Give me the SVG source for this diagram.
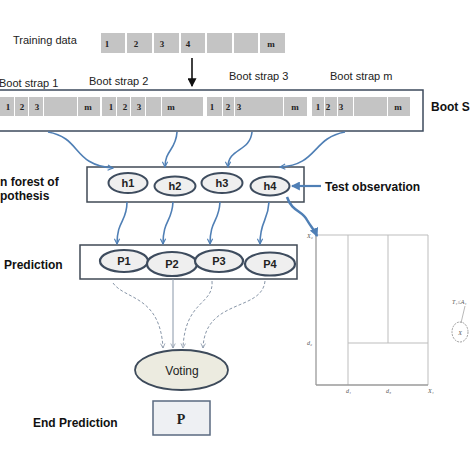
<svg xmlns="http://www.w3.org/2000/svg" width="474" height="474" viewBox="0 0 474 474">
<defs>
<marker id="blueArrow" viewBox="0 0 8 8" refX="7" refY="4" markerWidth="7" markerHeight="7" orient="auto" markerUnits="userSpaceOnUse">
<path d="M1,1 L7,4 L1,7" fill="none" stroke="#4f7fb5" stroke-width="1.3"/>
</marker>
<marker id="blueFill" viewBox="0 0 8 8" refX="7" refY="4" markerWidth="9" markerHeight="9" orient="auto" markerUnits="userSpaceOnUse">
<path d="M0,0 L8,4 L0,8 Z" fill="#4f7fb5"/>
</marker>
<marker id="grayArrow" viewBox="0 0 8 8" refX="7" refY="4" markerWidth="6" markerHeight="6" orient="auto" markerUnits="userSpaceOnUse">
<path d="M1,1 L7,4 L1,7" fill="none" stroke="#8896a8" stroke-width="1"/>
</marker>
<marker id="blackArrow" viewBox="0 0 8 8" refX="7" refY="4" markerWidth="9" markerHeight="9" orient="auto" markerUnits="userSpaceOnUse">
<path d="M0,0 L8,4 L0,8 Z" fill="#111"/>
</marker>
</defs>
<style>
.sans{font-family:"Liberation Sans",Arial,sans-serif}
.lbl{font-family:"Liberation Sans",Arial,sans-serif;font-size:11px;fill:#222}
.blbl{font-family:"Liberation Sans",Arial,sans-serif;font-size:12px;font-weight:bold;fill:#111}
.cell{fill:#c4c4c4}
.num{font-family:"Liberation Serif","Times New Roman",serif;font-size:9px;font-weight:bold;fill:#222;text-anchor:middle}
.hyp{fill:#efefef;stroke:#3e4c5e;stroke-width:2}
.pred{fill:#efefef;stroke:#3e4c5e;stroke-width:2.2}
.ell{font-family:"Liberation Sans",Arial,sans-serif;font-size:11px;font-weight:bold;fill:#222;text-anchor:middle}
.blue{fill:none;stroke:#4f7fb5;stroke-width:1.6}
.dash{fill:none;stroke:#8896a8;stroke-width:1;stroke-dasharray:3,2}
.grid{stroke:#bdbdbd;stroke-width:1;fill:none}
.axis{stroke:#9a9a9a;stroke-width:1.3;fill:none}
.tiny{font-family:"Liberation Serif","Times New Roman",serif;font-size:6px;font-style:italic;fill:#555}
</style>
<rect width="474" height="474" fill="#ffffff"/>

<g id="training">
<text class="lbl" x="13" y="44">Training data</text>
<rect class="cell" x="101" y="33" width="24" height="20"/>
<rect class="cell" x="127" y="33" width="25" height="20"/>
<rect class="cell" x="154" y="33" width="25" height="20"/>
<rect class="cell" x="181" y="33" width="24" height="20"/>
<rect class="cell" x="207" y="33" width="25" height="20"/>
<rect class="cell" x="234" y="33" width="24" height="20"/>
<rect class="cell" x="260" y="33" width="25" height="20"/>
<text class="num" x="107" y="47">1</text>
<text class="num" x="136" y="47">2</text>
<text class="num" x="162" y="47">3</text>
<text class="num" x="188" y="47">4</text>
<text class="num" x="271" y="47">m</text>
</g>

<g id="bootstrap">
<text class="lbl" x="-1" y="87" font-size="10">Boot strap  1</text>
<text class="lbl" x="89" y="85" font-size="10">Boot strap  2</text>
<text class="lbl" x="229" y="80" font-size="10">Boot strap  3</text>
<text class="lbl" x="330" y="80" font-size="10">Boot strap  m</text>
<rect x="-5" y="90" width="428" height="41" fill="none" stroke="#3c4a5c" stroke-width="1.5"/>
<rect class="cell" x="0" y="97" width="14" height="19"/>
<rect class="cell" x="15" y="97" width="13" height="19"/>
<rect class="cell" x="29" y="97" width="14" height="19"/>
<rect class="cell" x="44" y="97" width="33" height="19"/>
<rect class="cell" x="78" y="97" width="22" height="19"/>
<rect class="cell" x="102" y="97" width="14" height="19"/>
<rect class="cell" x="117" y="97" width="13" height="19"/>
<rect class="cell" x="131" y="97" width="14" height="19"/>
<rect class="cell" x="146" y="97" width="15" height="19"/>
<rect class="cell" x="162" y="97" width="41" height="19"/>
<rect class="cell" x="207" y="97" width="15" height="19"/>
<rect class="cell" x="223" y="97" width="11" height="19"/>
<rect class="cell" x="235" y="97" width="48" height="19"/>
<rect class="cell" x="284" y="97" width="23" height="19"/>
<rect class="cell" x="312" y="97" width="12" height="19"/>
<rect class="cell" x="325" y="97" width="12" height="19"/>
<rect class="cell" x="338" y="97" width="15" height="19"/>
<rect class="cell" x="354" y="97" width="33" height="19"/>
<rect class="cell" x="388" y="97" width="22" height="19"/>
<text class="num" x="8" y="110">1</text>
<text class="num" x="22" y="110">2</text>
<text class="num" x="37" y="110">3</text>
<text class="num" x="88" y="110">m</text>
<text class="num" x="111" y="110">1</text>
<text class="num" x="125" y="110">2</text>
<text class="num" x="139" y="110">3</text>
<text class="num" x="171" y="110">m</text>
<text class="num" x="212" y="110" font-weight="normal">1</text>
<text class="num" x="228" y="110" font-weight="normal">2</text>
<text class="num" x="239" y="110" font-weight="normal">3</text>
<text class="num" x="295" y="110" font-weight="normal">m</text>
<text class="num" x="318" y="110" font-weight="normal">1</text>
<text class="num" x="328" y="110" font-weight="normal">2</text>
<text class="num" x="341" y="110" font-weight="normal">3</text>
<text class="num" x="398" y="110" font-weight="normal">m</text>
<text class="blbl" x="431" y="111">Boot S</text>
</g>

<g id="hypotheses">
<text class="blbl" x="0" y="186" font-size="12">n forest of</text>
<text class="blbl" x="0" y="200" font-size="12">pothesis</text>
<rect x="87" y="167" width="217" height="35" fill="#ffffff" stroke="#404a55" stroke-width="1.5"/>
<ellipse class="hyp" cx="128" cy="183" rx="19.5" ry="10"/>
<ellipse class="hyp" cx="175" cy="186" rx="20.5" ry="9.5"/>
<ellipse class="hyp" cx="222" cy="183" rx="20.5" ry="10"/>
<ellipse class="hyp" cx="270" cy="186" rx="19.5" ry="9.5"/>
<text class="ell" x="128" y="187">h1</text>
<text class="ell" x="175" y="190">h2</text>
<text class="ell" x="222" y="187">h3</text>
<text class="ell" x="270" y="190">h4</text>
<text class="blbl" x="325" y="191">Test observation</text>
</g>

<g id="predictions">
<text class="blbl" x="4" y="269">Prediction</text>
<rect x="80" y="245" width="217" height="34" fill="#ffffff" stroke="#404a55" stroke-width="1.5"/>
<ellipse class="pred" cx="124" cy="261" rx="24" ry="11"/>
<ellipse class="pred" cx="172" cy="264" rx="25" ry="12"/>
<ellipse class="pred" cx="219" cy="261" rx="24" ry="11"/>
<ellipse class="pred" cx="270" cy="264" rx="25" ry="11.5"/>
<text class="ell" x="124" y="265" font-size="10" font-weight="normal">P1</text>
<text class="ell" x="172" y="268" font-size="10" font-weight="normal">P2</text>
<text class="ell" x="219" y="265" font-size="10" font-weight="normal">P3</text>
<text class="ell" x="270" y="268" font-size="10" font-weight="normal">P4</text>
</g>

<g id="voting">
<ellipse cx="181.5" cy="370" rx="46.5" ry="20" fill="#ecebe0" stroke="#3d4a5a" stroke-width="1.8"/>
<text class="sans" x="182" y="375" font-size="12" fill="#222" text-anchor="middle">Voting</text>
</g>

<g id="end">
<text class="blbl" x="33" y="427">End Prediction</text>
<rect x="153" y="401" width="57" height="34" fill="#eef0f3" stroke="#5a6a80" stroke-width="1.5"/>
<text x="181" y="424" font-family="'Liberation Serif','Times New Roman',serif" font-size="14" font-weight="bold" fill="#222" text-anchor="middle">P</text>
</g>

<g id="chart">
<line class="grid" x1="316" y1="235" x2="428" y2="235"/>
<line class="grid" x1="428" y1="235" x2="428" y2="385"/>
<line class="grid" x1="348" y1="235" x2="348" y2="385"/>
<line class="grid" x1="388" y1="235" x2="388" y2="343"/>
<line class="grid" x1="348" y1="343" x2="428" y2="343"/>
<line class="axis" x1="316" y1="235" x2="316" y2="385"/>
<line class="axis" x1="316" y1="385" x2="428" y2="385"/>
<text class="tiny" x="307" y="238">X₂</text>
<text class="tiny" x="307" y="345">d₂</text>
<text class="tiny" x="346" y="393">d₁</text>
<text class="tiny" x="386" y="393">d₃</text>
<text class="tiny" x="428" y="393">X₁</text>
</g>

<g id="tree">
<text class="tiny" x="452" y="304" font-size="5">T₁≤A₁</text>
<path d="M465,306 L461,323" stroke="#888" stroke-width="0.6" fill="none"/>
<ellipse cx="460" cy="332" rx="8" ry="10" fill="none" stroke="#777" stroke-width="0.7" stroke-dasharray="2,1"/>
<text class="tiny" x="460" y="335" font-size="7" text-anchor="middle">X</text>
</g>

<g id="connectors">
<path d="M192,58 L192,86" stroke="#111" stroke-width="1.6" fill="none" marker-end="url(#blackArrow)"/>
<path class="blue" d="M48,132 C82,138 72,165 113,168" marker-end="url(#blueArrow)"/>
<path class="blue" d="M177,132 C176,150 165,150 165,167" marker-end="url(#blueArrow)"/>
<path class="blue" d="M252,132 C250,152 228,148 228,167" marker-end="url(#blueArrow)"/>
<path class="blue" d="M345,132 C312,138 318,165 280,167" marker-end="url(#blueArrow)"/>
<path class="blue" d="M127,202 C127,222 117,220 117,244" marker-end="url(#blueArrow)"/>
<path class="blue" d="M173,202 C172,222 163,220 163,244" marker-end="url(#blueArrow)"/>
<path class="blue" d="M220,202 C219,222 210,220 210,244" marker-end="url(#blueArrow)"/>
<path class="blue" d="M269,202 C268,222 260,220 260,244" marker-end="url(#blueArrow)"/>
<path d="M321,186 L292,186" stroke="#4f7fb5" stroke-width="2.2" fill="none" marker-end="url(#blueFill)"/>
<path d="M287,197 C292,212 302,210 307,220 C311,227 314,229 317,236" stroke="#4f7fb5" stroke-width="2.5" fill="none" marker-end="url(#blueFill)"/>
<path class="dash" d="M113,283 C125,300 160,295 163,348" marker-end="url(#grayArrow)"/>
<path d="M173,279 L173,348" stroke="#8896a8" stroke-width="1" fill="none" marker-end="url(#grayArrow)"/>
<path class="dash" d="M212,281 C214,305 185,300 183,348" marker-end="url(#grayArrow)"/>
<path class="dash" d="M265,281 C262,312 205,298 203,348" marker-end="url(#grayArrow)"/>
</g>
</svg>
